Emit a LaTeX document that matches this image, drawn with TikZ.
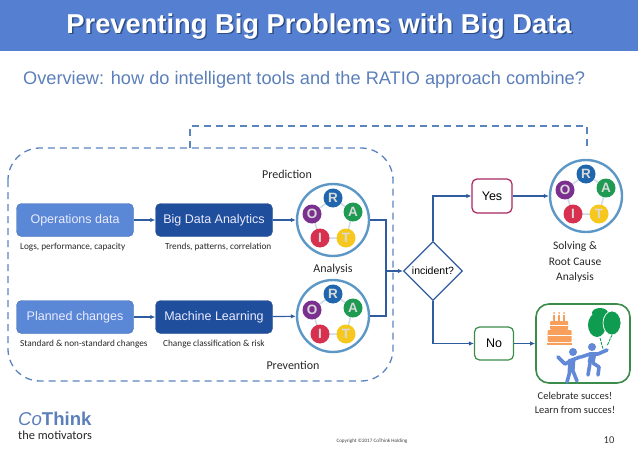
\documentclass[tikz,border=0pt]{standalone}
\usepackage{fontspec}
\setmainfont{Carlito}
\newfontfamily\arialfont{Liberation Sans}
\usetikzlibrary{positioning, calc}
\usetikzlibrary{shapes.geometric}
\usetikzlibrary{arrows.meta}
\definecolor{bandblue}{HTML}{5580D2}
\definecolor{headblue}{HTML}{5B7FBA}
\definecolor{shadowblue}{HTML}{2C4C86}
\definecolor{lightbox}{HTML}{5A87D6}
\definecolor{lightedge}{HTML}{3F6CB0}
\definecolor{darkbox}{HTML}{1F4E9C}
\definecolor{darkedge}{HTML}{2F5597}
\definecolor{flowblue}{HTML}{2F5C9E}
\definecolor{dashblue}{HTML}{5B84BE}
\definecolor{ringblue}{HTML}{5C97C6}
\definecolor{spoke}{HTML}{CDDBEA}
\definecolor{ballR}{HTML}{1F66AE}
\definecolor{ballO}{HTML}{7B2F8F}
\definecolor{ballA}{HTML}{1E9A53}
\definecolor{ballI}{HTML}{D8304F}
\definecolor{ballT}{HTML}{F6C81E}
\definecolor{yesedge}{HTML}{A9265E}
\definecolor{noedge}{HTML}{3B8C4B}
\definecolor{cakeorange}{HTML}{F79F5B}
\definecolor{dancer}{HTML}{6189D8}
\definecolor{balloon}{HTML}{0F9B50}
\tikzset{
  databox/.style={draw=lightedge, fill=lightbox, rounded corners=5pt, minimum width=117pt, minimum height=33pt, inner sep=0pt, text=white!92!blue, font=\arialfont\fontsize{12.5}{14}\selectfont},
  toolbox/.style={databox, draw=darkedge, fill=darkbox},
  caption/.style={font=\fontsize{9.25}{11.5}\selectfont, text=black!85, inner sep=0pt},
  bigcaption/.style={caption, font=\fontsize{12}{15.5}\selectfont},
  flow/.style={draw=flowblue, line width=1.2pt, -{Latex[length=5pt,width=4.5pt]}},
  flowline/.style={draw=flowblue, line width=1.2pt},
  loopdash/.style={draw=dashblue, line width=1.3pt, dash pattern=on 7pt off 5pt},
  answer/.style={draw, fill=white, rounded corners=5pt, line width=1.2pt, inner sep=0pt, font=\arialfont\fontsize{12.5}{14}\selectfont},
  ball/.style={circle, minimum size=19pt, inner sep=0pt, text=white!85!black, font=\arialfont\bfseries\fontsize{13.5}{14}\selectfont},
  wheel/.style={circle, draw=ringblue, line width=2.4pt, fill=white, minimum size=72pt, inner sep=0pt},
  limb/.style={draw=dancer, line width=3.6pt, line cap=round, line join=round},
  torso/.style={draw=dancer, line width=7pt, line join=round}
}
\newcommand{\ratiowheel}[3]{
  \node[wheel] (#1) at (#2,#3) {};
  \draw[spoke, line width=1.5pt] ($(#1)+(0,-22)$) -- ($(#1)+(20,-8)$) -- ($(#1)+(13,18)$) -- ($(#1)+(-13,18)$) -- ($(#1)+(-21,-6)$) -- cycle;
  \node[ball, fill=ballR] (#1R) at ($(#1)+(0,-22)$) {R};
  \node[ball, fill=ballO] (#1O) at ($(#1)+(-21,-6)$) {O};
  \node[ball, fill=ballA] (#1A) at ($(#1)+(20,-8)$) {A};
  \node[ball, fill=ballI] (#1I) at ($(#1)+(-13,18)$) {I};
  \node[ball, fill=ballT] (#1T) at ($(#1)+(13,18)$) {T};
}
\begin{document}
\begin{tikzpicture}[x=1pt,y=-1pt]
  \useasboundingbox (0,0) rectangle (638,452);
  \fill[bandblue] (0,0) rectangle (638,51);
  \node[inner sep=0pt, text=shadowblue, font=\arialfont\bfseries\fontsize{27.3}{30}\selectfont] (titleshadow) at (320.4,27.9) {Preventing Big Problems with Big Data};
  \node[inner sep=0pt, text=white, font=\arialfont\bfseries\fontsize{27.3}{30}\selectfont] (title) at (319,26.5) {Preventing Big Problems with Big Data};
  \node[inner sep=0pt, anchor=west, text=headblue, font=\arialfont\fontsize{18.2}{20}\selectfont] (overview) at (23,80) {Overview: how do intelligent tools and the RATIO approach combine?};

  \draw[loopdash, rounded corners=32pt] (8,148) rectangle (393,381);
  \coordinate (loopstart) at (190,148);
  \coordinate (loopend) at (587,151);
  \draw[loopdash] (loopstart) -- (190,126) -- (587,126) -- (loopend);

  \node[databox] (opsdata) at (75,220) {Operations data};
  \node[toolbox] (bigdata) at (214,220) {Big Data Analytics};
  \node[databox] (planned) at (75,317) {Planned changes};
  \node[toolbox] (mlearn) at (214,317) {Machine Learning};

  \node[caption, anchor=west] (opscap) at (20,247) {Logs, performance, capacity};
  \node[caption, anchor=west] (bigcap) at (165,247) {Trends, patterns, correlation};
  \node[caption, anchor=west] (plancap) at (20,344) {Standard \& non-standard changes};
  \node[caption, anchor=west] (mlcap) at (163,344) {Change classification \& risk};

  \ratiowheel{predict}{333}{220}
  \ratiowheel{prevent}{333}{316}
  \ratiowheel{solve}{586}{196}

  \node[bigcaption] (predlabel) at (287,174) {Prediction};
  \node[bigcaption] (analabel) at (333,269) {Analysis};
  \node[bigcaption] (prevlabel) at (293,365) {Prevention};
  \node[caption, font=\fontsize{11.5}{15.5}\selectfont, align=center] (solvelabel) at (575,262) {Solving \&\\Root Cause\\Analysis};
  \node[caption, font=\fontsize{10.5}{14.5}\selectfont, align=center] (celebrate) at (575,403) {Celebrate succes!\\Learn from succes!};

  \node[diamond, aspect=1, draw=flowblue, line width=1.2pt, minimum size=59pt, inner sep=0pt, font=\arialfont\fontsize{10.5}{12}\selectfont] (incident) at (433,271) {incident?};
  \node[answer, draw=yesedge, minimum width=40pt, minimum height=34pt] (yes) at (492,196) {Yes};
  \node[answer, draw=noedge, minimum width=39pt, minimum height=33pt] (no) at (494,343.5) {No};
  \node[draw=noedge, line width=1.6pt, rounded corners=13pt, minimum width=94pt, minimum height=79pt, inner sep=0pt] (party) at (583,343.5) {};

  \draw[flow] (opsdata) -- (bigdata);
  \draw[flow] (planned) -- (mlearn);
  \draw[flow] (bigdata) -- (predict);
  \draw[flow] (mlearn) -- (prevent);
  \coordinate (joint) at (386,271);
  \draw[flowline] (predict) -| (joint);
  \draw[flowline] (prevent) -| (joint);
  \draw[flow] (joint) -- (incident);
  \draw[flow] (incident) |- (yes);
  \draw[flow] (incident) |- (no);
  \draw[flow] (yes) -- (solve);
  \draw[flow] (no) -- (party);

  % cake
  \fill[cakeorange] (547,342.5) rectangle (572,345);
  \fill[cakeorange, rounded corners=1pt] (547.5,330) rectangle (571.5,342);
  \fill[cakeorange, rounded corners=1pt] (550,321) rectangle (568,330);
  \draw[white, line width=.8pt] (547.5,335) -- (571.5,335);
  \draw[white, line width=.8pt] (550,325) -- (568,325);
  \foreach \xc in {554,559,564} {
    \fill[cakeorange] (\xc-1,321) rectangle (\xc+1,315);
    \fill[cakeorange] (\xc,313) circle (1);
  }
  % balloons
  \draw[balloon, line width=.9pt, dash pattern=on 3pt off 1pt] (600,338) -- (603,349);
  \draw[balloon, line width=.9pt, dash pattern=on 3pt off 1pt] (612,335) -- (607,346);
  \fill[balloon] (600,313) ellipse (8 and 5);
  \fill[balloon] (597,325) ellipse (9 and 12);
  \draw[white, line width=.7pt, fill=balloon] (612,323) ellipse (9 and 12);
  % dancers
  \fill[dancer] (573,352) circle (4);
  \draw[limb] (558,357) -- (565,364) -- (572,360) -- (580,357);
  \draw[torso] (572,359) -- (571,372);
  \draw[limb] (570,371) -- (567,382);
  \draw[limb] (573,371) -- (577,381);
  \fill[dancer] (592,347) circle (4);
  \draw[limb] (581,357) -- (590,354) -- (598,354) -- (607,350);
  \draw[torso] (593,353) -- (591,363);
  \draw[limb] (590,363) -- (588,375);
  \draw[limb] (593,363) -- (599,367) -- (598,375);

  % logo and footer
  \node[inner sep=0pt, anchor=west, text=headblue, font=\arialfont\fontsize{18.6}{24}\selectfont] (logo) at (18,419) {\textit{Co}\textbf{Think}};
  \node[inner sep=0pt, anchor=west, text=black!85, font=\fontsize{12.4}{13}\selectfont] (motto) at (18,435) {the motivators};
  \node[inner sep=0pt, text=black!75, font=\fontsize{5.1}{6}\selectfont] (copyright) at (372,441) {Copyright \textcopyright 2017 CoThink Holding};
  \node[inner sep=0pt, text=black!80, font=\fontsize{10.5}{12}\selectfont] (pageno) at (609,440) {10};
\end{tikzpicture}
\end{document}
